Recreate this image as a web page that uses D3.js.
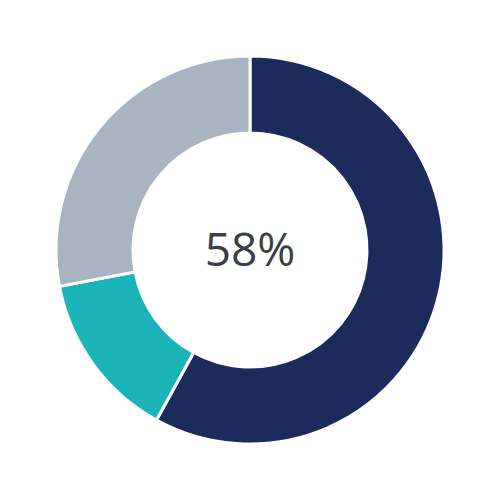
<!DOCTYPE html>
<html><head><meta charset="utf-8">
<script src="https://cdn.jsdelivr.net/npm/d3@7"></script>
<style>body{margin:0;background:#fff}</style></head>
<body><svg id="c" width="500" height="500"></svg>
<script>
const categories = ["A","B","C"];
const values = [58,14,28];
const colors = ["#1b2b5b","#1bb5b9","#a9b4c3"];
const centerLabel = "58%";
const svg = d3.select("#c");
const g = svg.append("g").attr("transform","translate(250,250)");
const pie = d3.pie().sort(null).value(d=>d)(values);
const arc = d3.arc().innerRadius(117).outerRadius(194);
g.selectAll("path").data(pie).join("path")
 .attr("d",arc).attr("fill",(d,i)=>colors[i])
 .attr("stroke","#fff").attr("stroke-width",3);
g.append("text").attr("text-anchor","middle").attr("dy","0.35em")
 .attr("font-family","Open Sans, sans-serif").attr("font-size",46)
 .attr("fill","#3a3f47").text(centerLabel);
</script></body></html>
